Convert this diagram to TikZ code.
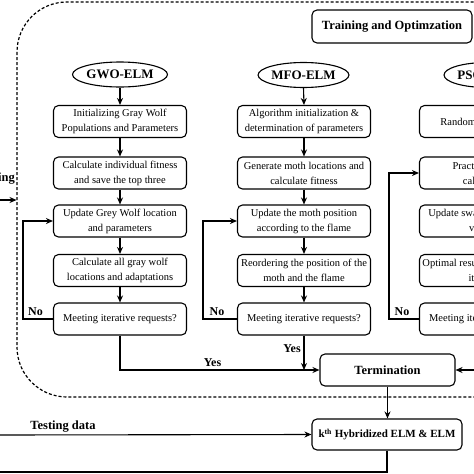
\documentclass[tikz,border=0pt]{standalone}
\usepackage{fontspec}
\setmainfont{Liberation Serif}
\usetikzlibrary{arrows.meta,shapes.geometric}
\begin{document}
\begin{tikzpicture}[x=1pt,y=-1pt,
 box/.style={draw, line width=1.1pt, rounded corners=5pt, minimum width=133pt, minimum height=32pt, align=center, font=\fontsize{10.5}{15}\selectfont, inner sep=1pt},
 oval/.style={draw, ellipse, line width=1.1pt, minimum width=86pt, minimum height=25pt, inner sep=0pt, font=\fontsize{13}{15}\selectfont\bfseries},
 arr/.style={line width=1.1pt, -{Stealth[length=7pt,width=6pt]}},
 ln/.style={line width=1.1pt},
 lbl/.style={font=\fontsize{12}{14}\selectfont\bfseries, inner sep=0pt},
 frame/.style={line width=1.2pt, dash pattern=on 3pt off 2pt, rounded corners=50pt}
]
\useasboundingbox (0,0) rectangle (474,474);
\clip (0,0) rectangle (474,474);
\fill[white] (0,0) rectangle (474,474);

% dashed frame
\draw[frame] (17,2) rectangle (620,397);

% title
\node[box, minimum width=160pt, minimum height=33pt, font=\fontsize{12.5}{15}\selectfont\bfseries] (title) at (392,26.5) {Training and Optimzation};

% GWO column
\node[oval] (g0) at (120,74.5) {GWO-ELM};
\node[box] (g1) at (120,121.5) {Initializing Gray Wolf\\Populations and Parameters};
\node[box] (g2) at (120,173) {Calculate individual fitness\\and save the top three};
\node[box] (g3) at (120,221) {Update Grey Wolf location\\and parameters};
\node[box] (g4) at (120,270.5) {Calculate all gray wolf\\locations and adaptations};
\node[box] (g5) at (120,319) {Meeting iterative requests?};

% MFO column
\node[oval] (m0) at (303.5,75) {MFO-ELM};
\node[box] (m1) at (304,121.5) {Algorithm initialization \&\\determination of parameters};
\node[box] (m2) at (304,173) {Generate moth locations and\\calculate fitness};
\node[box] (m3) at (304,221) {Update the moth position\\according to the flame};
\node[box] (m4) at (304,270.5) {Reordering the position of the\\moth and the flame};
\node[box] (m5) at (304,319) {Meeting iterative requests?};

% PSO column
\node[oval] (p0) at (487,75) {PSO-ELM};
\node[box] (p1) at (486,121.5) {Random initialization};
\node[box] (p2) at (486,173) {Practical fitness\\calculation};
\node[box] (p3) at (486,221) {Update swarm position and\\velocity};
\node[box] (p4) at (486,270.5) {Optimal results for the current\\iteration};
\node[box] (p5) at (486,319) {Meeting iterative requests?};

% column arrows
\foreach \c in {g,m,p}{
  \draw[arr] (\c0.south) -- (\c1.north);
  \draw[arr] (\c1.south) -- (\c2.north);
  \draw[arr] (\c2.south) -- (\c3.north);
  \draw[arr] (\c3.south) -- (\c4.north);
  \draw[arr] (\c4.south) -- (\c5.north);
}

% No loops
\draw[arr] (g5.west) -- ++(-30,0) |- (g3.west);
\draw[arr] (m5.west) -- ++(-34,0) |- (m3.west);
\draw[arr] (p5.west) -- ++(-30,0) |- (p2.west);
\node[lbl] (no1) at (35.5,312) {No};
\node[lbl] (no2) at (217,312) {No};
\node[lbl] (no3) at (402,312) {No};

% Termination
\node[box, minimum width=135pt, minimum height=32pt, font=\fontsize{12.5}{15}\selectfont\bfseries] (term) at (387.5,370) {Termination};
\draw[arr] (g5.south) |- (term.west);
\draw[arr] (m5.south) -- (m5.south |- term.west);
\draw[arr] (p5.south) |- (term.east);
\node[lbl] (yes1) at (212.5,363) {Yes};
\node[lbl] (yes2) at (292,349) {Yes};

% kth model
\node[box, minimum width=150pt, minimum height=31pt, font=\fontsize{11}{14}\selectfont\bfseries] (kth) at (387,434.5) {k\textsuperscript{th} Hybridized ELM \& ELM};
\draw[arr] (term.south) -- (term.south |- kth.north);

% testing data
\coordinate (tin) at (0,435);
\draw[arr] (tin) -- (kth.west);
\node[lbl, font=\fontsize{12.5}{14}\selectfont\bfseries] (tdl) at (63,427) {Testing data};

% output
\coordinate (bout) at (0,472);
\draw[line width=1.6pt] (kth.south) |- (bout);

% training input
\node[lbl, anchor=east, font=\fontsize{12.5}{14}\selectfont\bfseries] (trl) at (15,179) {Training};
\coordinate (trin) at (0,200);
\coordinate (trout) at (16.5,200);
\draw[arr] (trin) -- (trout);
\end{tikzpicture}
\end{document}
